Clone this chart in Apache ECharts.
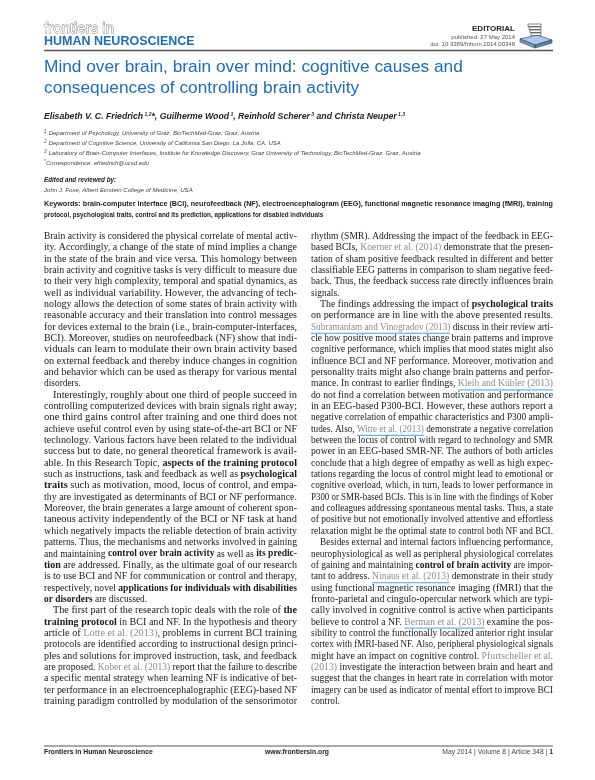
<!DOCTYPE html>
<html>
<head>
<meta charset="utf-8">
<script src="https://cdn.jsdelivr.net/npm/echarts@6/dist/echarts.min.js"></script>
<style>html,body{margin:0;padding:0;background:#fff}#main{width:595px;height:780px}</style>
</head>
<body>
<div id="main"></div>
<script>
// page text, one entry per printed line. **bold**, [[grey link]], {underlined link}, "|" at end = last line of paragraph
var titleLines = ['Mind over brain, brain over mind: cognitive causes and', 'consequences of controlling brain activity'];
var affiliations = [
  ['1', ' Department of Psychology, University of Graz, BioTechMed-Graz, Graz, Austria'],
  ['2', ' Department of Cognitive Science, University of California San Diego, La Jolla, CA, USA'],
  ['3', ' Laboratory of Brain-Computer Interfaces, Institute for Knowledge Discovery, Graz University of Technology, BioTechMed-Graz, Graz, Austria'],
  ['*', 'Correspondence: efriedrich@ucsd.edu']
];
var keywordLines = [
  'brain-computer interface (BCI), neurofeedback (NF), electroencephalogram (EEG), functional magnetic resonance imaging (fMRI), training',
  'protocol, psychological traits, control and its prediction, applications for disabled individuals'
];
var leftCol = [
  'Brain activity is considered the physical correlate of mental activ-',
  'ity. Accordingly, a change of the state of mind implies a change',
  'in the state of the brain and vice versa. This homology between',
  'brain activity and cognitive tasks is very difficult to measure due',
  'to their very high complexity, temporal and spatial dynamics, as',
  'well as individual variability. However, the advancing of tech-',
  'nology allows the detection of some states of brain activity with',
  'reasonable accuracy and their translation into control messages',
  'for devices external to the brain (i.e., brain-computer-interfaces,',
  'BCI). Moreover, studies on neurofeedback (NF) show that indi-',
  'viduals can learn to modulate their own brain activity based',
  'on external feedback and thereby induce changes in cognition',
  'and behavior which can be used as therapy for various mental',
  'disorders.|',
  '>Interestingly, roughly about one third of people succeed in',
  'controlling computerized devices with brain signals right away;',
  'one third gains control after training and one third does not',
  'achieve useful control even by using state-of-the-art BCI or NF',
  'technology. Various factors have been related to the individual',
  'success but to date, no general theoretical framework is avail-',
  'able. In this Research Topic, **aspects of the training protocol**',
  'such as instructions, task and feedback as well as **psychological**',
  '**traits** such as motivation, mood, locus of control, and empa-',
  'thy are investigated as determinants of BCI or NF performance.',
  'Moreover, the brain generates a large amount of coherent spon-',
  'taneous activity independently of the BCI or NF task at hand',
  'which negatively impacts the reliable detection of brain activity',
  'patterns. Thus, the mechanisms and networks involved in gaining',
  'and maintaining **control over brain activity** as well as **its predic-**',
  '**tion** are addressed. Finally, as the ultimate goal of our research',
  'is to use BCI and NF for communication or control and therapy,',
  'respectively, novel **applications for individuals with disabilities**',
  '**or disorders** are discussed.|',
  '>The first part of the research topic deals with the role of **the**',
  '**training protocol** in BCI and NF. In the hypothesis and theory',
  'article of [[Lotte et al. (2013)]], problems in current BCI training',
  'protocols are identified according to instructional design princi-',
  'ples and solutions for improved instruction, task, and feedback',
  'are proposed. [[Kober et al. (2013)]] report that the failure to describe',
  'a specific mental strategy when learning NF is indicative of bet-',
  'ter performance in an electroencephalographic (EEG)-based NF',
  'training paradigm controlled by modulation of the sensorimotor'
];
var rightCol = [
  'rhythm (SMR). Addressing the impact of the feedback in EEG-',
  'based BCIs, [[Koerner et al. (2014)]] demonstrate that the presen-',
  'tation of sham positive feedback resulted in different and better',
  'classifiable EEG patterns in comparison to sham negative feed-',
  'back. Thus, the feedback success rate directly influences brain',
  'signals.|',
  '>The findings addressing the impact of **psychological traits**',
  'on performance are in line with the above presented results.',
  '{Subramaniam and Vinogradov (2013)} discuss in their review arti-',
  'cle how positive mood states change brain patterns and improve',
  'cognitive performance, which implies that mood states might also',
  'influence BCI and NF performance. Moreover, motivation and',
  'personality traits might also change brain patterns and perfor-',
  'mance. In contrast to earlier findings, {Kleih and Kübler (2013)}',
  'do not find a correlation between motivation and performance',
  'in an EEG-based P300-BCI. However, these authors report a',
  'negative correlation of empathic characteristics and P300 ampli-',
  'tudes. Also, {Witte et al. (2013)} demonstrate a negative correlation',
  'between the locus of control with regard to technology and SMR',
  'power in an EEG-based SMR-NF. The authors of both articles',
  'conclude that a high degree of empathy as well as high expec-',
  'tations regarding the locus of control might lead to emotional or',
  'cognitive overload, which, in turn, leads to lower performance in',
  'P300 or SMR-based BCIs. This is in line with the findings of Kober',
  'and colleagues addressing spontaneous mental tasks. Thus, a state',
  'of positive but not emotionally involved attentive and effortless',
  'relaxation might be the optimal state to control both NF and BCI.|',
  '>Besides external and internal factors influencing performance,',
  'neurophysiological as well as peripheral physiological correlates',
  'of gaining and maintaining **control of brain activity** are impor-',
  'tant to address. {Ninaus et al. (2013)} demonstrate in their study',
  'using functional magnetic resonance imaging (fMRI) that the',
  'fronto-parietal and cingulo-opercular network which are typi-',
  'cally involved in cognitive control is active when participants',
  'believe to control a NF. {Berman et al. (2013)} examine the pos-',
  'sibility to control the functionally localized anterior right insular',
  'cortex with fMRI-based NF. Also, peripheral physiological signals',
  'might have an impact on cognitive control. [[Pfurtscheller et al.]]',
  '[[(2013)]] investigate the interaction between brain and heart and',
  'suggest that the changes in heart rate in correlation with motor',
  'imagery can be used as indicator of mental effort to improve BCI',
  'control.|'
];

var BLUE = '#1a6fb5';
var SERIF = '"Liberation Serif", "DejaVu Serif", serif';
var SANS = '"Liberation Sans", Arial, sans-serif';
var ctx = document.createElement('canvas').getContext('2d');
function measure(t, font) { ctx.font = font; return ctx.measureText(t).width; }

function parse(line) {
  var segs = [], re = /\*\*(.+?)\*\*|\[\[(.+?)\]\]|\{(.+?)\}|([^*\[{]+)/g, m;
  while ((m = re.exec(line))) {
    if (m[1]) segs.push({t: m[1], bold: true});
    else if (m[2]) segs.push({t: m[2], link: true});
    else if (m[3]) segs.push({t: m[3], link: true, ul: true});
    else segs.push({t: m[4]});
  }
  return segs;
}

var els = [];
function addLine(line, x, y, width, size, family, baseColor, opt) {
  opt = opt || {};
  var last = false, indent = 0;
  if (line.charAt(line.length - 1) === '|') { last = true; line = line.slice(0, -1); }
  if (line.charAt(0) === '>') { indent = opt.indent || 9; line = line.slice(1); }
  var segs = parse(line), total = 0;
  segs.forEach(function (s) {
    s.font = (opt.italic ? 'italic ' : '') + ((s.bold || opt.bold) ? 'bold ' : '') + size + 'px ' + family;
    s.w = measure(s.t, s.font); total += s.w;
  });
  var avail = width - indent;
  var sc = !last ? avail / total : Math.min(1, avail / total);
  var cx = x + indent;
  segs.forEach(function (s) {
    els.push({type: 'text', x: cx, y: y, scaleX: sc, originX: 0, originY: 0, style: {
      text: s.t, font: s.font, fill: s.link ? '#8c8c8c' : baseColor, textVerticalAlign: 'bottom'}});
    if (s.ul) els.push({type: 'line', shape: {x1: cx, y1: y + 1.5, x2: cx + s.w * sc, y2: y + 1.5},
      style: {stroke: '#3ea6e6', lineWidth: 1}});
    cx += s.w * sc;
  });
}
function txt(t, x, y, font, fill, align) {
  els.push({type: 'text', x: x, y: y, style: {text: t, font: font, fill: fill, textAlign: align || 'left', textVerticalAlign: 'bottom'}});
}
function hr(y, w) { els.push({type: 'line', shape: {x1: 44, y1: y, x2: 553, y2: y}, style: {stroke: '#555', lineWidth: w}}); }

// header
els.push({type: 'text', x: 44, y: 36, style: {text: 'frontiers in', font: '15px ' + SANS, fill: '#fff', stroke: '#777', lineWidth: 0.8, textVerticalAlign: 'bottom'}});
txt('HUMAN NEUROSCIENCE', 44, 48, 'bold 12.5px ' + SANS, BLUE);
hr(50.5, 1.3);
txt('EDITORIAL', 515, 33, 'bold 8px ' + SANS, '#222', 'right');
txt('published: 27 May 2014', 515, 40, '6px ' + SANS, '#555', 'right');
txt('doi: 10.3389/fnhum.2014.00348', 515, 47, '6px ' + SANS, '#555', 'right');
// small stacked-book logo
els.push({type: 'polygon', shape: {points: [[520, 39], [537, 35], [552, 40], [535, 45]]}, style: {fill: '#a9c8ea', stroke: '#333', lineWidth: 0.6}});
els.push({type: 'polygon', shape: {points: [[520, 39], [535, 45], [535, 48], [520, 42]]}, style: {fill: '#6f9fd6', stroke: '#333', lineWidth: 0.6}});
els.push({type: 'polygon', shape: {points: [[535, 45], [552, 40], [552, 43], [535, 48]]}, style: {fill: '#4f86c6', stroke: '#333', lineWidth: 0.6}});
for (var i = 0; i < 4; i++) els.push({type: 'rect', shape: {x: 528 + i, y: 24 + i * 3, width: 13 - i, height: 2.5}, style: {fill: '#fff', stroke: '#333', lineWidth: 0.6}});

titleLines.forEach(function (t, i) { txt(t, 44, 76 + i * 21, '17.3px ' + SANS, BLUE); });
els.push({type: 'text', x: 44, y: 121, style: {rich: {
  a: {font: 'italic bold 8.7px ' + SANS, fill: '#222'}, s: {font: 'italic bold 5px ' + SANS, fill: '#222', verticalAlign: 'top', padding: [0, 0, 4, 0]}},
  text: '{a|Elisabeth V. C. Friedrich}{s| 1,2}{a|*, Guilherme Wood}{s| 1}{a|, Reinhold Scherer}{s| 3}{a| and Christa Neuper}{s| 1,3}', textVerticalAlign: 'bottom'}});
affiliations.forEach(function (a, i) {
  txt(a[0], 44, 134 + i * 10, 'italic 4.5px ' + SANS, '#444');
  txt(a[1], a[0] === '*' ? 46 : 47, 136 + i * 10, 'italic 6px ' + SANS, '#444');
});
txt('Edited and reviewed by:', 44, 183, 'italic bold 6.3px ' + SANS, '#222');
txt('John J. Foxe, Albert Einstein College of Medicine, USA', 44, 193, 'italic 6.1px ' + SANS, '#444');
addLine('**Keywords:** ' + keywordLines[0], 44, 207, 509, 6.3, SANS, '#222', {bold: true});
addLine(keywordLines[1] + '|', 44, 218, 509, 6.3, SANS, '#222', {bold: true});

var LH = (704 - 239) / 41;
leftCol.forEach(function (l, i) { addLine(l, 44, 241 + i * LH, 253, 9.4, SERIF, '#1a1a1a'); });
rightCol.forEach(function (l, i) { addLine(l, 311, 241 + i * LH, 242, 9.4, SERIF, '#1a1a1a'); });

// footer
hr(746, 1);
txt('Frontiers in Human Neuroscience', 44, 756, 'bold 6.8px ' + SANS, '#222');
txt('www.frontiersin.org', 297, 756, 'bold 6.8px ' + SANS, '#222', 'center');
els.push({type: 'text', x: 553, y: 756, style: {rich: {a: {font: '6.8px ' + SANS, fill: '#444'}, b: {font: 'bold 6.8px ' + SANS, fill: '#222'}},
  text: '{a|May 2014 | Volume 8 | Article 348 | }{b|1}', textAlign: 'right', textVerticalAlign: 'bottom'}});

var myChart = echarts.init(document.getElementById('main'));
myChart.setOption({animation: false, backgroundColor: '#fff', graphic: {elements: els}});
</script>
</body>
</html>
